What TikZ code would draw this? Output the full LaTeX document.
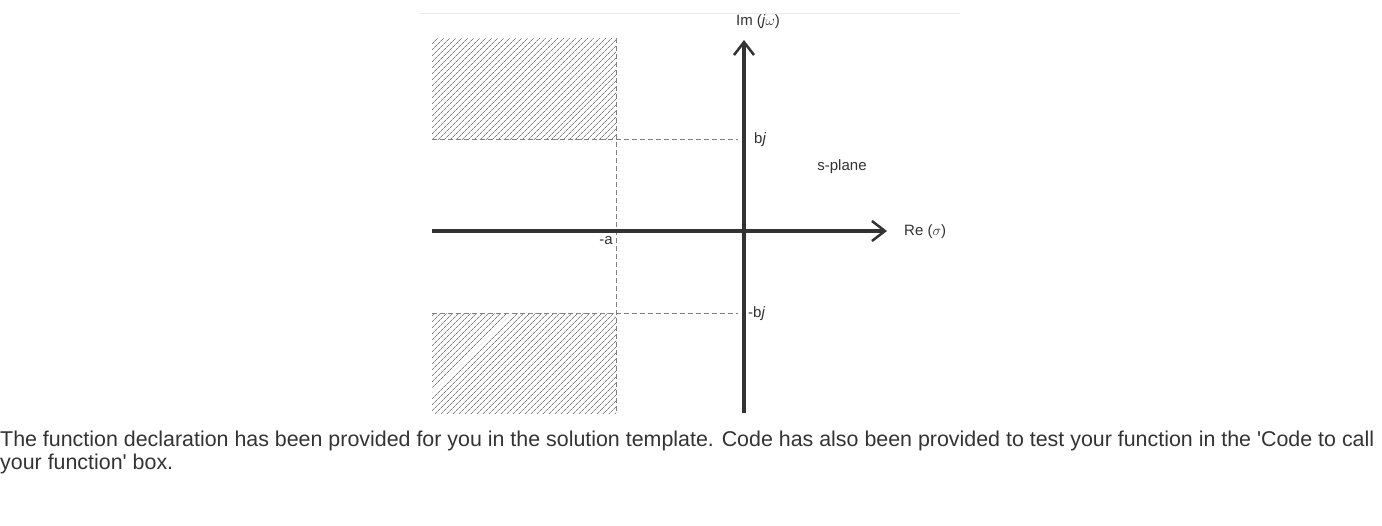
\documentclass[tikz,border=0pt]{standalone}
\usepackage{fontspec}
\setmainfont{Liberation Sans}
\usetikzlibrary{patterns.meta,arrows.meta}
\definecolor{ax}{HTML}{333333}
\definecolor{txt}{HTML}{333333}
\begin{document}
\begin{tikzpicture}[x=1pt,y=-1pt,
  hatch/.style={pattern={Lines[angle=45,distance=4pt,line width=0.8pt]},pattern color=gray},
  guide/.style={gray,dash pattern=on 5pt off 3pt,line width=0.9pt},
  axis/.style={ax,line width=3.5pt,-{Straight Barb[length=13pt,width=20pt,line width=2.5pt]}},
  lbl/.style={font=\fontsize{15}{18}\selectfont,text=txt,inner sep=1pt},
  body/.style={font=\fontsize{21.4}{26}\selectfont,text=txt,anchor=west,inner sep=0pt}]
\useasboundingbox (0,0) rectangle (1382,525);
\draw[gray!15,line width=0.7pt] (420,13) -- (960,13);
\fill[hatch] (432,38) rectangle (616,139);
\fill[hatch] (432,313) rectangle (616,413);
\draw[guide] (616,38) -- (616,413);
\draw[guide] (432,139) -- (738,139);
\draw[guide] (432,313) -- (738,313);
\coordinate (xl) at (432,231);
\coordinate (xr) at (887,231);
\coordinate (yb) at (744,413);
\coordinate (yt) at (744,40);
\draw[axis] (xl) -- (xr);
\draw[axis] (yb) -- (yt);
\node[lbl] (im) at (758,22) {Im (\textit{j}$\omega$)};
\node[lbl,anchor=west] (bj) at (753,140) {b\textit{j}};
\node[lbl] (sp) at (842,167) {s-plane};
\node[lbl,anchor=west] (re) at (903,232) {Re ($\sigma$)};
\node[lbl,anchor=east] (ma) at (614,241) {-a};
\node[lbl,anchor=west] (mbj) at (747,314) {-b\textit{j}};
\node[body] (t1) at (0,441) {The function declaration has been provided for you in the solution template. Code has also been provided to test your function in the \textquotesingle Code to call};
\node[body] (t2) at (0,464) {your function\textquotesingle{} box.};
\end{tikzpicture}
\end{document}
